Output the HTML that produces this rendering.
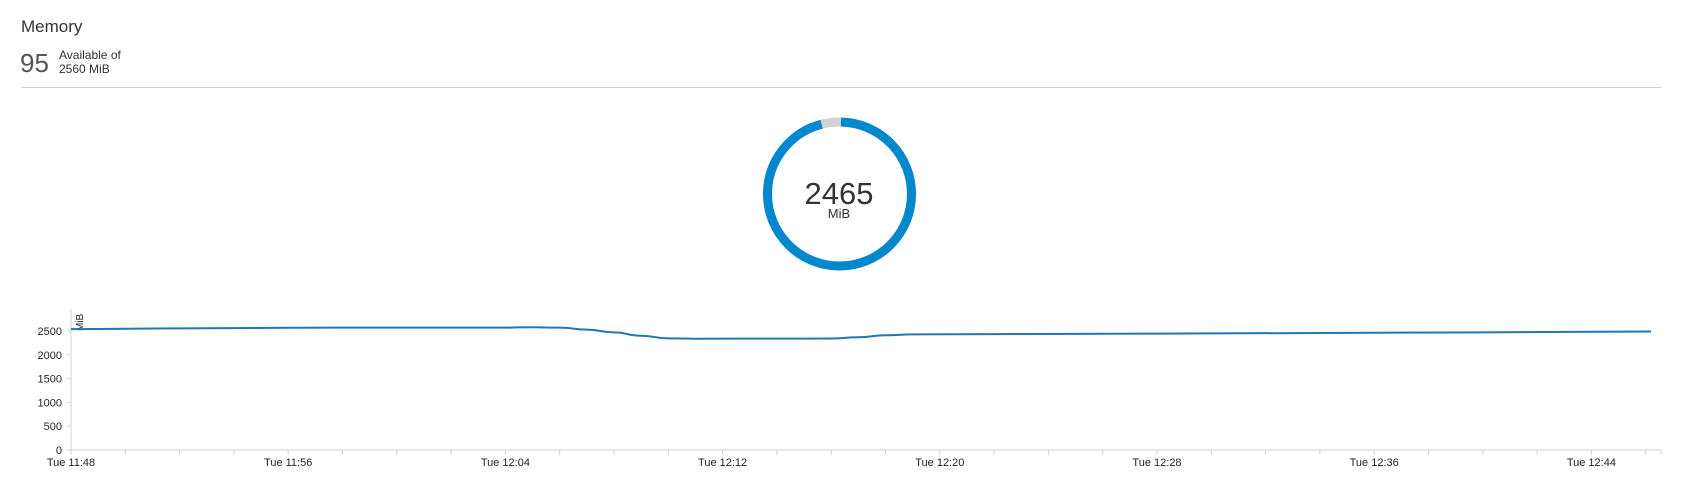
<!DOCTYPE html>
<html><head><meta charset="utf-8"><style>
body{margin:0;width:1682px;height:491px;background:#fff;font-family:"Liberation Sans",sans-serif;overflow:hidden;position:relative}
.a{position:absolute}
</style></head><body>
<div class="a" style="left:21px;top:17px;font-size:17px;color:#333">Memory</div>
<div class="a" style="left:20px;top:48px;font-size:26px;color:#555">95</div>
<div class="a" style="left:59px;top:48px;font-size:12px;line-height:14px;color:#333">Available of<br>2560 MiB</div>
<div class="a" style="left:21px;top:87px;width:1640px;height:1px;background:#d1d1d1"></div>
<svg class="a" style="left:0;top:0" width="1682" height="491">
<circle cx="839.5" cy="194" r="72" fill="none" stroke="#d1d1d1" stroke-width="9"/>
<circle id="donutArc" cx="839.5" cy="194" r="72" fill="none" stroke="#0088ce" stroke-width="9" transform="rotate(-90 839.5 194)"/>
<text x="839" y="204" text-anchor="middle" font-size="31" fill="#333" font-family="Liberation Sans,sans-serif">2465</text>
<text x="839" y="218" text-anchor="middle" font-size="13" fill="#333" font-family="Liberation Sans,sans-serif">MiB</text>
</svg>
<svg class="a" id="chart" style="left:0;top:0" width="1682" height="491"></svg>
<script>
const used = 2465, total = 2560;
const minutes = [0,4,8,12,16,17,18,19,20,21,22,23,26,28,29,30,31,34,40,46,52,58.2];
const values = [2540,2555,2568,2572,2572,2578,2570,2530,2470,2400,2345,2338,2340,2342,2370,2410,2428,2435,2445,2458,2472,2490];
const yTicks = [0,500,1000,1500,2000,2500];
const xLabels = ["Tue 11:48","Tue 11:56","Tue 12:04","Tue 12:12","Tue 12:20","Tue 12:28","Tue 12:36","Tue 12:44"];
const NS="http://www.w3.org/2000/svg";
const arc=document.getElementById('donutArc');
const C=2*Math.PI*72, gap=3;
arc.setAttribute('stroke-dasharray',(C*used/total-gap)+' '+C);
arc.setAttribute('stroke-dashoffset',-gap/2);
const svg=document.getElementById('chart');
const X0=71,X1=1661,Y0=450,YT=309;
const pxMin=27.15;
const x=m=>X0+m*pxMin;
const y=v=>Y0-v/500*23.8;
function el(t,a){const e=document.createElementNS(NS,t);for(const k in a)e.setAttribute(k,a[k]);svg.appendChild(e);return e;}
let e=el('line',{x1:X0,y1:YT,x2:X0,y2:Y0,stroke:'#d1d1d1'});

e=el('line',{x1:X0,y1:Y0,x2:X1,y2:Y0,stroke:'#d1d1d1'});

yTicks.forEach(v=>{
 el('line',{x1:X0-4,y1:y(v),x2:X0,y2:y(v),stroke:'#d1d1d1'});
 const t=el('text',{x:X0-9,y:y(v)+4,'text-anchor':'end','font-size':11,fill:'#222','font-family':'Liberation Sans,sans-serif'});
 t.textContent=v;
 
 
});
for(let m=0;x(m)<=X1+1;m+=2){el('line',{x1:x(m),y1:Y0,x2:x(m),y2:Y0+5,stroke:'#d1d1d1'});}
el('line',{x1:X1,y1:Y0,x2:X1,y2:Y0+5,stroke:'#d1d1d1'});
xLabels.forEach((l,i)=>{
 const t=el('text',{x:x(i*8),y:466,'text-anchor':'middle','font-size':11,fill:'#222','font-family':'Liberation Sans,sans-serif'});
 t.textContent=l;
 
 
});
const u=el('text',{x:0,y:0,'font-size':10,fill:'#222','font-family':'Liberation Sans,sans-serif',transform:`translate(${X0+12},331) rotate(-90)`});
u.textContent='MiB';


const pts=minutes.map((m,i)=>[x(m),y(values[i])]);
let d='M'+pts[0][0]+','+pts[0][1];
for(let i=1;i<pts.length;i++){const p=pts[i-1],q=pts[i],mx=(p[0]+q[0])/2;d+=` C${mx},${p[1]} ${mx},${q[1]} ${q[0]},${q[1]}`;}
const ln=el('path',{d:d,fill:'none',stroke:'#1f77b4','stroke-width':2});


</script>
</body></html>
